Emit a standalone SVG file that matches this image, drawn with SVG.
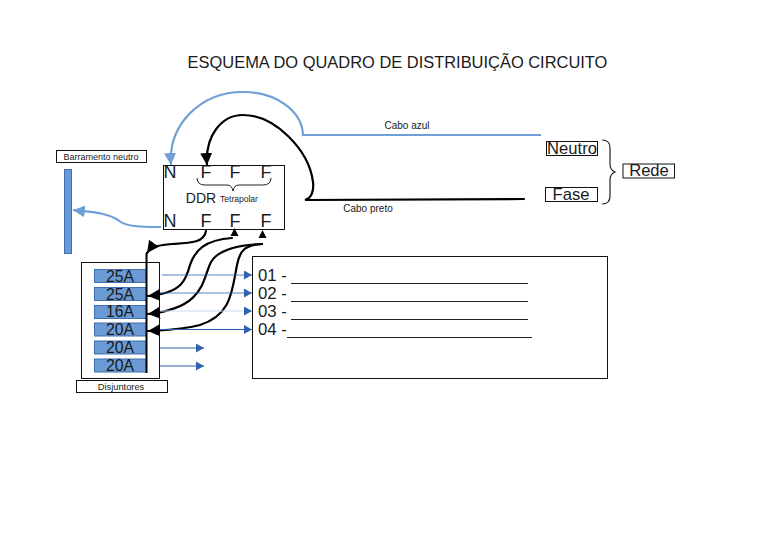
<svg xmlns="http://www.w3.org/2000/svg" width="768" height="543" viewBox="0 0 768 543">
<style>
text{font-family:"Liberation Sans",Arial,sans-serif;fill:#1a1a1a}
.box{fill:#fff;stroke:#111;stroke-width:1}
.bk{fill:none;stroke:#000;stroke-width:2.2;stroke-linecap:round}
.bl{fill:none;stroke:#6f9fd6;stroke-width:2.2}
.thin{fill:none;stroke:#2f63ad;stroke-width:0.8}
.thin2{fill:none;stroke:#2f63ad;stroke-width:1.1}
.br{fill:#6a9bd4;stroke:#3f6fb0;stroke-width:1}
.l18{font-size:18px;text-anchor:middle}
.l16{font-size:16.6px;text-anchor:middle}
.a{font-size:15.8px;text-anchor:middle}
.u{stroke:#222;stroke-width:1}
.n{font-size:16.8px}
</style>
<defs>
<marker id="ab" markerUnits="userSpaceOnUse" markerWidth="12" markerHeight="12" refX="8" refY="4.500" orient="auto"><path d="M0 0L8 4.500L0 9Z" fill="#2f63ad"/></marker>
<marker id="abl" markerUnits="userSpaceOnUse" markerWidth="14" markerHeight="14" refX="12" refY="6" orient="auto"><path d="M0 0L12 6L0 12Z" fill="#6f9fd6"/></marker>
<marker id="ak" markerUnits="userSpaceOnUse" markerWidth="14" markerHeight="14" refX="12" refY="6" orient="auto"><path d="M0 0L12 6L0 12Z" fill="#000"/></marker>
</defs>
<text id="title" x="397.500" y="68" font-size="16.45" text-anchor="middle">ESQUEMA DO QUADRO DE DISTRIBUIÇÃO CIRCUITO</text>

<g id="barramento-label"><rect class="box" x="56.500" y="150.500" width="90" height="12"/><text x="101" y="159.500" font-size="9" text-anchor="middle">Barramento neutro</text></g>
<g id="barramento"><rect class="br" x="64.500" y="169.500" width="7" height="84"/></g>

<g id="ddr">
<rect class="box" x="163.500" y="165.500" width="121" height="64"/>
<text class="l18" x="170" y="178">N</text><text class="l18" x="206" y="178">F</text><text class="l18" x="235" y="178">F</text><text class="l18" x="266" y="178">F</text>
<text class="l18" x="170" y="227">N</text><text class="l18" x="206" y="227">F</text><text class="l18" x="235" y="227">F</text><text class="l18" x="266" y="227">F</text>
<text x="201" y="203" font-size="14" text-anchor="middle">DDR</text>
<text x="239" y="202" font-size="8.500" text-anchor="middle">Tetrapolar</text>
<path d="M197 178Q197 185 205 185H227Q232 185 233 191Q234 185 239 185H263Q271 185 271 178" fill="none" stroke="#222" stroke-width="1"/>
</g>

<g id="disjuntores">
<rect class="box" x="81.500" y="262.500" width="78" height="116"/>
<g>
<rect class="br" x="94.500" y="269.500" width="52" height="13"/><rect class="br" x="94.500" y="287.500" width="52" height="13"/><rect class="br" x="94.500" y="305.500" width="52" height="13"/><rect class="br" x="94.500" y="323" width="52" height="13"/><rect class="br" x="94.500" y="341" width="52" height="13"/><rect class="br" x="94.500" y="359" width="52" height="13"/>
<text class="a" x="120" y="281.500">25A</text><text class="a" x="120" y="299.500">25A</text><text class="a" x="120" y="317">16A</text><text class="a" x="120" y="335">20A</text><text class="a" x="120" y="353">20A</text><text class="a" x="120" y="371">20A</text>
</g>
</g>
<g id="disjuntores-label"><rect class="box" x="76.500" y="380.500" width="91" height="12"/><text x="121" y="389.500" font-size="9.300" text-anchor="middle">Disjuntores</text></g>

<g id="circuitos">
<rect class="box" x="252.500" y="256.500" width="355" height="122"/>
<text class="n" x="258" y="280.500">01 -</text><text class="n" x="258" y="298.500">02 -</text><text class="n" x="258" y="316.500">03 -</text><text class="n" x="258" y="334.500">04 -</text>
<path class="u" d="M291 283.500H528M291 301.500H528M291 319.500H528M287 337.500H532"/>
</g>

<g id="neutro"><rect class="box" x="546.500" y="141.500" width="51" height="14"/><text class="l16" x="572" y="154">Neutro</text></g>
<g id="fase"><rect class="box" x="545.500" y="187.500" width="52" height="14"/><text class="l16" x="571" y="199.500">Fase</text></g>
<g id="rede"><rect class="box" x="623" y="164" width="51.500" height="14"/><text class="l16" x="649" y="176">Rede</text></g>
<path id="chaveta" d="M602 140Q610 140 610 148V164Q610 170 615 172Q610 174 610 180V196Q610 204 602 204" fill="none" stroke="#222" stroke-width="1.200"/>

<text id="cabo-azul" x="407" y="129" font-size="10" text-anchor="middle">Cabo azul</text>
<text id="cabo-preto" x="368" y="212" font-size="10" text-anchor="middle">Cabo preto</text>

<g id="connectors">
<path class="bl" d="M541 135H303C302 110 275 92 243 92C200 92 168 125 171 165" marker-end="url(#abl)"/>
<path class="bl" d="M161 227C135 227 125 226 118 220C105 212 90 212 73 210" marker-end="url(#abl)"/>
<path class="bk" d="M524 199L305 200C312 198 314 190 313 182C309 150 275 115 243 115C222 115 205 135 207 165" marker-end="url(#ak)"/>
<path class="bk" d="M206 231C204 243 190 243 172 244C160 245 152 246 147 253" marker-end="url(#ak)"/>
<path d="M146.500 253V373" stroke="#000" stroke-width="2" fill="none"/>
<path class="bk" d="M232 238C205 240 195 250 190 265C186 280 182 293 148 296" marker-end="url(#ak)"/>
<path class="bk" d="M262 244C235 245 218 250 211 262C202 280 205 308 148 314" marker-end="url(#ak)"/>
<path class="bk" d="M262 244C245 245 240 250 237 265C232 290 232 315 200 325C180 330 165 330 148 331" marker-end="url(#ak)"/>
<path d="M234.500 228L238.500 236H230.500Z" fill="#000"/>
<path d="M262.500 230L266.500 238H258.500Z" fill="#000"/>
<path class="thin" d="M162 275H252" marker-end="url(#ab)"/>
<path class="thin" d="M160 293H252" marker-end="url(#ab)"/>
<path d="M160 311H252" stroke="#c9d8ec" stroke-width="1" fill="none" marker-end="url(#ab)"/>
<path class="thin2" d="M160 329.500H252" marker-end="url(#ab)"/>
<path class="thin2" d="M160 348H204" marker-end="url(#ab)"/>
<path class="thin2" d="M160 366H204" marker-end="url(#ab)"/>
</g>
</svg>
